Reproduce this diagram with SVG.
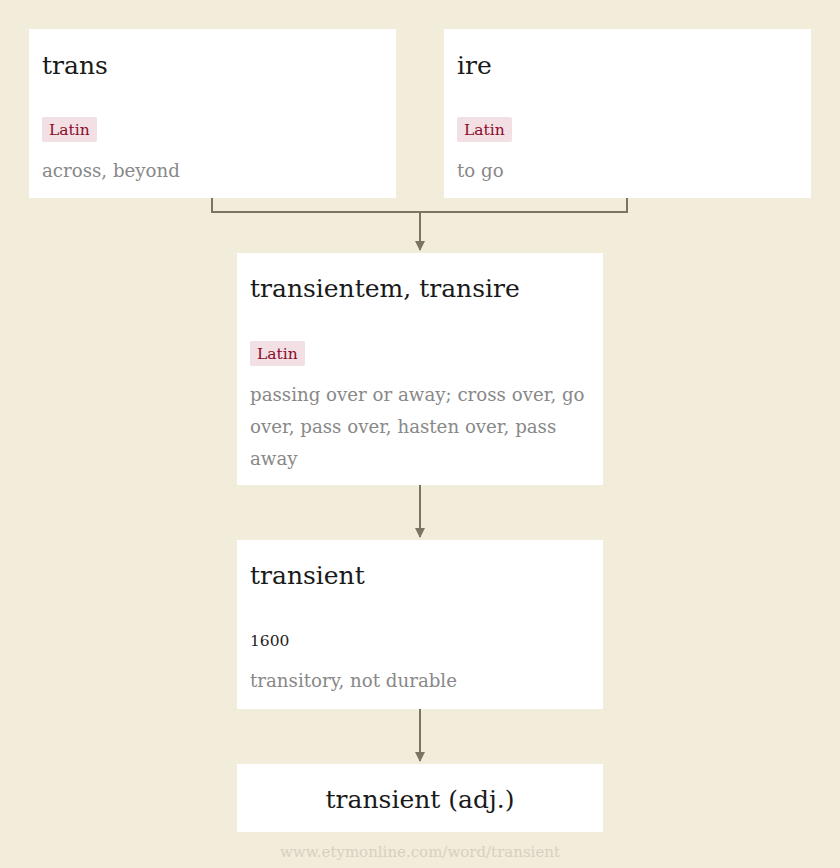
<svg xmlns="http://www.w3.org/2000/svg" width="840" height="868" viewBox="0 0 840 868">
<defs>
<marker id="arr" markerWidth="10" markerHeight="10" refX="9" refY="5" orient="auto" markerUnits="userSpaceOnUse" viewBox="0 0 10 10">
<path d="M0,0 L10,5 L0,10 Z" fill="#7a7464"/>
</marker>
<style>
.box{fill:#ffffff}
.t{font-family:"DejaVu Serif","Liberation Serif",serif;font-size:25px;fill:#1a1a1a}
.tag{fill:#f2e0e4}
.tagt{font-family:"DejaVu Serif","Liberation Serif",serif;font-size:15.5px;fill:#8b0a2a}
.g{font-family:"DejaVu Serif","Liberation Serif",serif;font-size:18.2px;fill:#888888}
.d{font-family:"DejaVu Serif","Liberation Serif",serif;font-size:15.5px;fill:#222222}
.c{fill:none;stroke:#7a7464;stroke-width:2}
.f{font-family:"DejaVu Serif","Liberation Serif",serif;font-size:15px;fill:#d8d0bf}
</style>
</defs>
<rect width="840" height="868" fill="#f2ecdb"/>
<g id="connectors">
<path class="c" d="M212,198 V212 H627 V198"/>
<path class="c" d="M420,212 V250" marker-end="url(#arr)"/>
<path class="c" d="M420,485 V537" marker-end="url(#arr)"/>
<path class="c" d="M420,709 V761" marker-end="url(#arr)"/>
</g>
<g id="node-trans">
<rect class="box" x="29" y="29" width="367" height="169"/>
<text class="t" x="42" y="74">trans</text>
<rect class="tag" x="42" y="117" width="55" height="25" rx="2"/>
<text class="tagt" x="49" y="135">Latin</text>
<text class="g" x="42" y="177">across, beyond</text>
</g>
<g id="node-ire">
<rect class="box" x="444" y="29" width="367" height="169"/>
<text class="t" x="457" y="74">ire</text>
<rect class="tag" x="457" y="117" width="55" height="25" rx="2"/>
<text class="tagt" x="464" y="135">Latin</text>
<text class="g" x="457" y="177">to go</text>
</g>
<g id="node-transientem">
<rect class="box" x="237" y="253" width="366" height="232"/>
<text class="t" x="250" y="297">transientem, transire</text>
<rect class="tag" x="250" y="341" width="55" height="25" rx="2"/>
<text class="tagt" x="257" y="359">Latin</text>
<text class="g" x="250" y="401">passing over or away; cross over, go</text>
<text class="g" x="250" y="433">over, pass over, hasten over, pass</text>
<text class="g" x="250" y="465">away</text>
</g>
<g id="node-transient">
<rect class="box" x="237" y="540" width="366" height="169"/>
<text class="t" x="250" y="584">transient</text>
<text class="d" x="250" y="646">1600</text>
<text class="g" x="250" y="687">transitory, not durable</text>
</g>
<g id="node-final">
<rect class="box" x="237" y="764" width="366" height="68"/>
<text class="t" x="420" y="808" text-anchor="middle">transient (adj.)</text>
</g>
<text class="f" x="420" y="857" text-anchor="middle">www.etymonline.com/word/transient</text>
</svg>
